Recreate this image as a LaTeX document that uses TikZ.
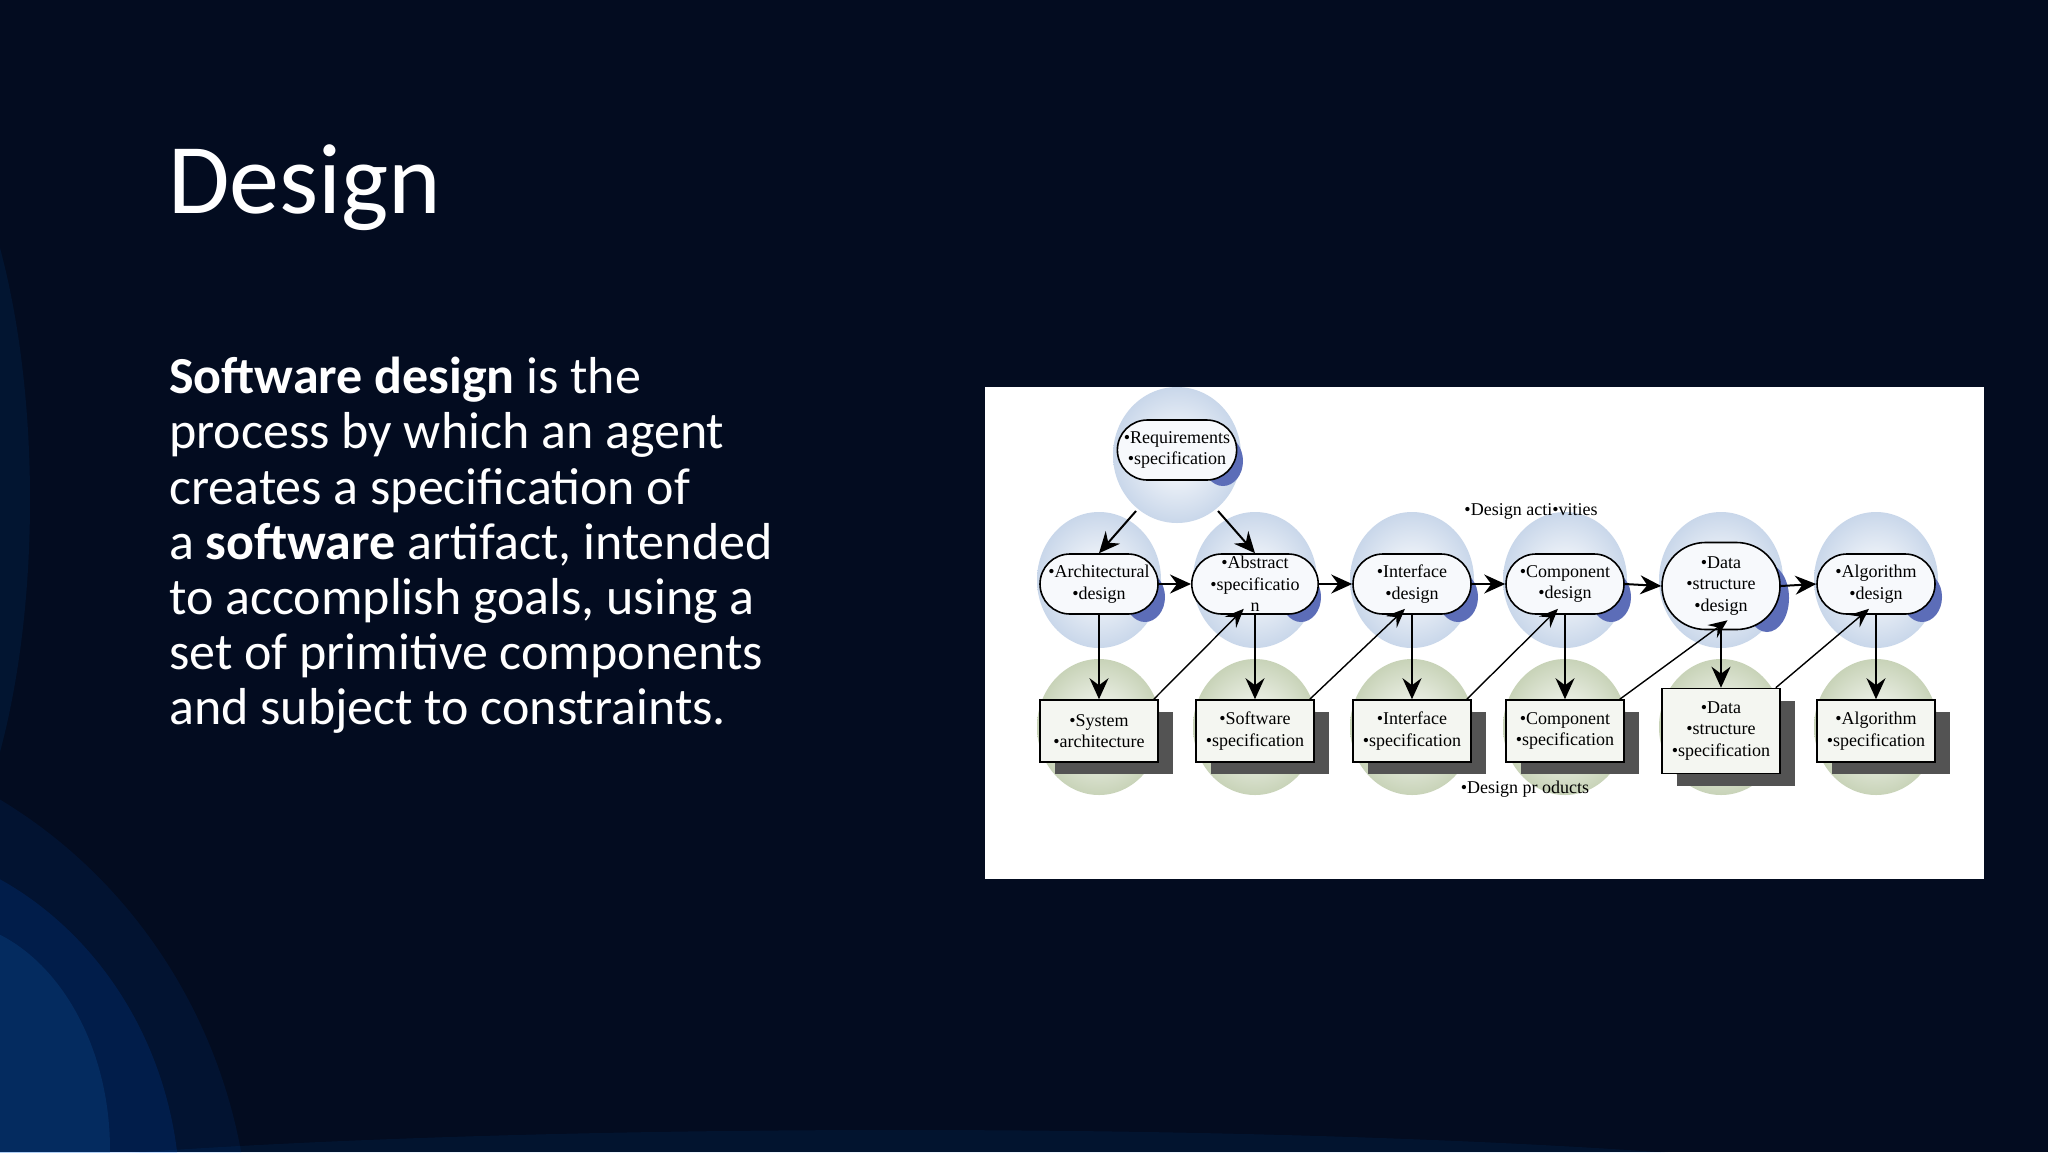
\documentclass[tikz,border=0pt]{standalone}
\usepackage{fontspec}
\setmainfont{Carlito}
\newfontfamily\tms{Liberation Serif}
\usetikzlibrary{arrows.meta,shapes.misc,calc}
\definecolor{bg}{HTML}{030C20}
\definecolor{bubB}{HTML}{C9D7EA}
\definecolor{bubG}{HTML}{C8D3B8}
\definecolor{crescent}{HTML}{5C6DB8}
\tikzset{
 x=1pt,y=-1pt,
 act/.style={draw=black,line width=1.6pt,rounded rectangle,fill=white!85!bubB,minimum width=118pt,minimum height=60pt,inner sep=0pt,align=center,font=\tms\fontsize{18}{21.5}\selectfont},
 prod/.style={draw=black,line width=1.6pt,rectangle,fill=white!80!bubG,minimum width=118pt,minimum height=62pt,inner sep=0pt,align=center,font=\tms\fontsize{18}{21.5}\selectfont},
 arr/.style={-{Stealth[length=21pt,width=19pt,inset=7pt]},line width=2pt},
 thin arr/.style={-{Stealth[length=19pt,width=16pt,inset=7pt]},line width=1.4pt},
 lbl/.style={font=\tms\fontsize{18}{20}\selectfont,inner sep=0pt}
}
\begin{document}
\begin{tikzpicture}
\useasboundingbox (0,0) rectangle (2048,1152);
\fill[bg] (0,0) rectangle (2048,1152);
\begin{scope}
\clip (0,0) rectangle (2048,1152);
\fill[blue!60!cyan,opacity=0.08] (-250,1250) ellipse (500 and 520);
\fill[blue!60!cyan,opacity=0.12] (-150,1200) ellipse (330 and 360);
\fill[cyan!50!blue,opacity=0.18] (-60,1150) ellipse (170 and 230);
\fill[blue!50!cyan,opacity=0.08] (-120,500) ellipse (150 and 420);
\fill[blue!50!cyan,opacity=0.07] (900,1210) ellipse (1100 and 80);
\end{scope}
\node[anchor=base west,inner sep=0pt,text=white,font=\fontsize{100}{100}\selectfont] (title) at (168,213) {Design};
\node[anchor=north west,inner sep=0pt,text=white,align=left,font=\fontsize{52}{55.2}\selectfont] (body) at (169,357)
 {\textbf{Software design} is the\\process by which an agent\\creates a specification of\\a \textbf{software} artifact, intended\\to accomplish goals, using a\\set of primitive components\\and subject to constraints.};
\fill[white] (985,387) rectangle (1984,879);
% bubbles
\shade[inner color=white,outer color=bubB] (1177,455) ellipse (64 and 68);
\foreach \x in {1099,1255,1412,1565,1721,1876}{
 \shade[inner color=white,outer color=bubG] (\x,727) ellipse (62 and 68);
 \shade[inner color=white,outer color=bubB] (\x,580) ellipse (62 and 68);
}
% crescents
\foreach \x/\y in {1177/454,1099/590,1255/590,1412/590,1565/590,1876/590}{
 \fill[crescent] (\x+46,\y+7) ellipse (20 and 25);
}
\fill[crescent] (1767,598) ellipse (22 and 34);
% shadows of products
\foreach \x/\h in {1099/31,1255/31,1412/31,1565/31,1721/42.5,1876/31}{
 \fill[gray!65!black] ($(\x,731)+(-44,-\h+12)$) rectangle ($(\x,731)+(74,\h+12)$);
}
\node[act] (req) at (1177,450) {•Requirements\\•specification};
\node[act] (a1) at (1099,584) {•Architectural\\•design};
\node[act] (a2) at (1255,584) {•Abstract\\•specificatio\\n};
\node[act] (a3) at (1412,584) {•Interface\\•design};
\node[act] (a4) at (1565,584) {•Component\\•design};
\node[act,minimum height=87pt] (a5) at (1721,586) {•Data\\•structure\\•design};
\node[act] (a6) at (1876,584) {•Algorithm\\•design};
\node[prod] (p1) at (1099,731) {•System\\•architecture};
\node[prod] (p2) at (1255,731) {•Software\\•specification};
\node[prod] (p3) at (1412,731) {•Interface\\•specification};
\node[prod] (p4) at (1565,731) {•Component\\•specification};
\node[prod,minimum height=85pt] (p5) at (1721,731) {•Data\\•structure\\•specification};
\node[prod] (p6) at (1876,731) {•Algorithm\\•specification};
\node[lbl] (lact) at (1531,511) {•Design acti•vities};
\node[lbl] (lprod) at (1525,789) {•Design pr oducts};
\coordinate (r1) at (1136,511);
\coordinate (r2) at (1218,511);
\draw[arr] (r1) -- (a1.north);
\draw[arr] (r2) -- (a2.north);
\foreach \a/\b in {a1/a2,a2/a3,a3/a4,a4/a5,a5/a6}{\draw[arr] (\a.east) -- (\b.west);}
\foreach \i in {1,...,6}{\draw[arr] (a\i.south) -- (p\i.north);}
\draw[thin arr] (p1.north east) ++(-5,0) -- ($(a2.south west)+(22,-6)$);
\draw[thin arr] (p2.north east) ++(-5,0) -- ($(a3.south west)+(22,-6)$);
\draw[thin arr] (p3.north east) ++(-5,0) -- ($(a4.south west)+(22,-6)$);
\draw[thin arr] (p4.north east) ++(-5,0) -- ($(a5.south west)+(22,-10)$);
\draw[thin arr] (p5.north east) ++(-5,0) -- ($(a6.south west)+(22,-6)$);
\end{tikzpicture}
\end{document}
